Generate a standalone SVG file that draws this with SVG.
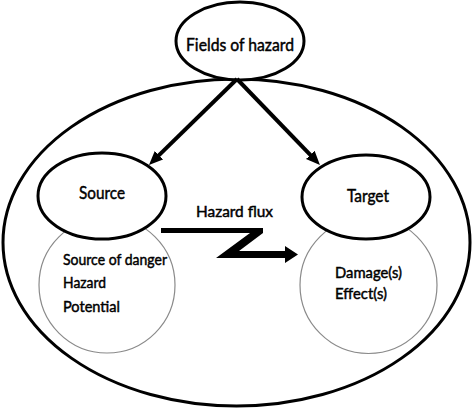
<svg xmlns="http://www.w3.org/2000/svg" width="474" height="409" viewBox="0 0 474 409">
  <defs>
    <marker id="ah" markerUnits="userSpaceOnUse" markerWidth="14" markerHeight="12" viewBox="0 0 14 12" refX="6" refY="6" orient="auto">
      <path d="M0,0 L14,6 L0,12 z" fill="#000"/>
    </marker>
    <style>
      .lbl { font-family: Lato, "Open Sans", "Liberation Sans", sans-serif; fill: #000; stroke: #000; stroke-width: 0.45; }
      .big { font-size: 17px; }
      .sm { font-size: 15px; }
      .thick { fill: #fff; stroke: #000; stroke-width: 3; }
      .thin { fill: #fff; stroke: #8a8a8a; stroke-width: 1.2; }
      .conn { stroke: #000; stroke-width: 4; fill: none; marker-end: url(#ah); }
    </style>
  </defs>
  <rect width="474" height="409" fill="#fff"/>

  <g id="field">
    <ellipse class="thick" cx="236.5" cy="242.5" rx="233.5" ry="163.5"/>
  </g>

  <g id="fields-of-hazard">
    <ellipse class="thick" cx="240" cy="41" rx="64" ry="39"/>
    <text class="lbl big" x="186" y="51" textLength="108" lengthAdjust="spacingAndGlyphs">Fields of hazard</text>
  </g>

  <g id="source-circle">
    <circle class="thin" cx="107" cy="285" r="68"/>
    <text class="lbl sm" x="63" y="265" textLength="104" lengthAdjust="spacingAndGlyphs">Source of danger</text>
    <text class="lbl sm" x="63" y="288" textLength="43" lengthAdjust="spacingAndGlyphs">Hazard</text>
    <text class="lbl sm" x="63" y="312" textLength="57" lengthAdjust="spacingAndGlyphs">Potential</text>
  </g>

  <g id="target-circle">
    <circle class="thin" cx="368.5" cy="285" r="68.5"/>
    <text class="lbl sm" x="335" y="278" textLength="67" lengthAdjust="spacingAndGlyphs">Damage(s)</text>
    <text class="lbl sm" x="335" y="299" textLength="52" lengthAdjust="spacingAndGlyphs">Effect(s)</text>
  </g>

  <g id="source">
    <ellipse class="thick" cx="102" cy="196" rx="64" ry="43"/>
    <text class="lbl big" x="79" y="199" textLength="46" lengthAdjust="spacingAndGlyphs">Source</text>
  </g>

  <g id="target">
    <ellipse class="thick" cx="366" cy="197" rx="64" ry="42"/>
    <text class="lbl big" x="347" y="202" textLength="42" lengthAdjust="spacingAndGlyphs">Target</text>
  </g>

  <g id="connectors">
    <line class="conn" x1="237" y1="79" x2="154.7" y2="159.4"/>
    <line class="conn" x1="237" y1="79" x2="314.4" y2="159.2"/>
    <polygon points="161,228 263,228 263,233 239,251 285,251 285,246 298,254.5 285,263 285,258 216,258 250,233 161,233" fill="#000"/>
    <text class="lbl sm" x="196" y="217" textLength="77" lengthAdjust="spacingAndGlyphs">Hazard flux</text>
  </g>
</svg>
